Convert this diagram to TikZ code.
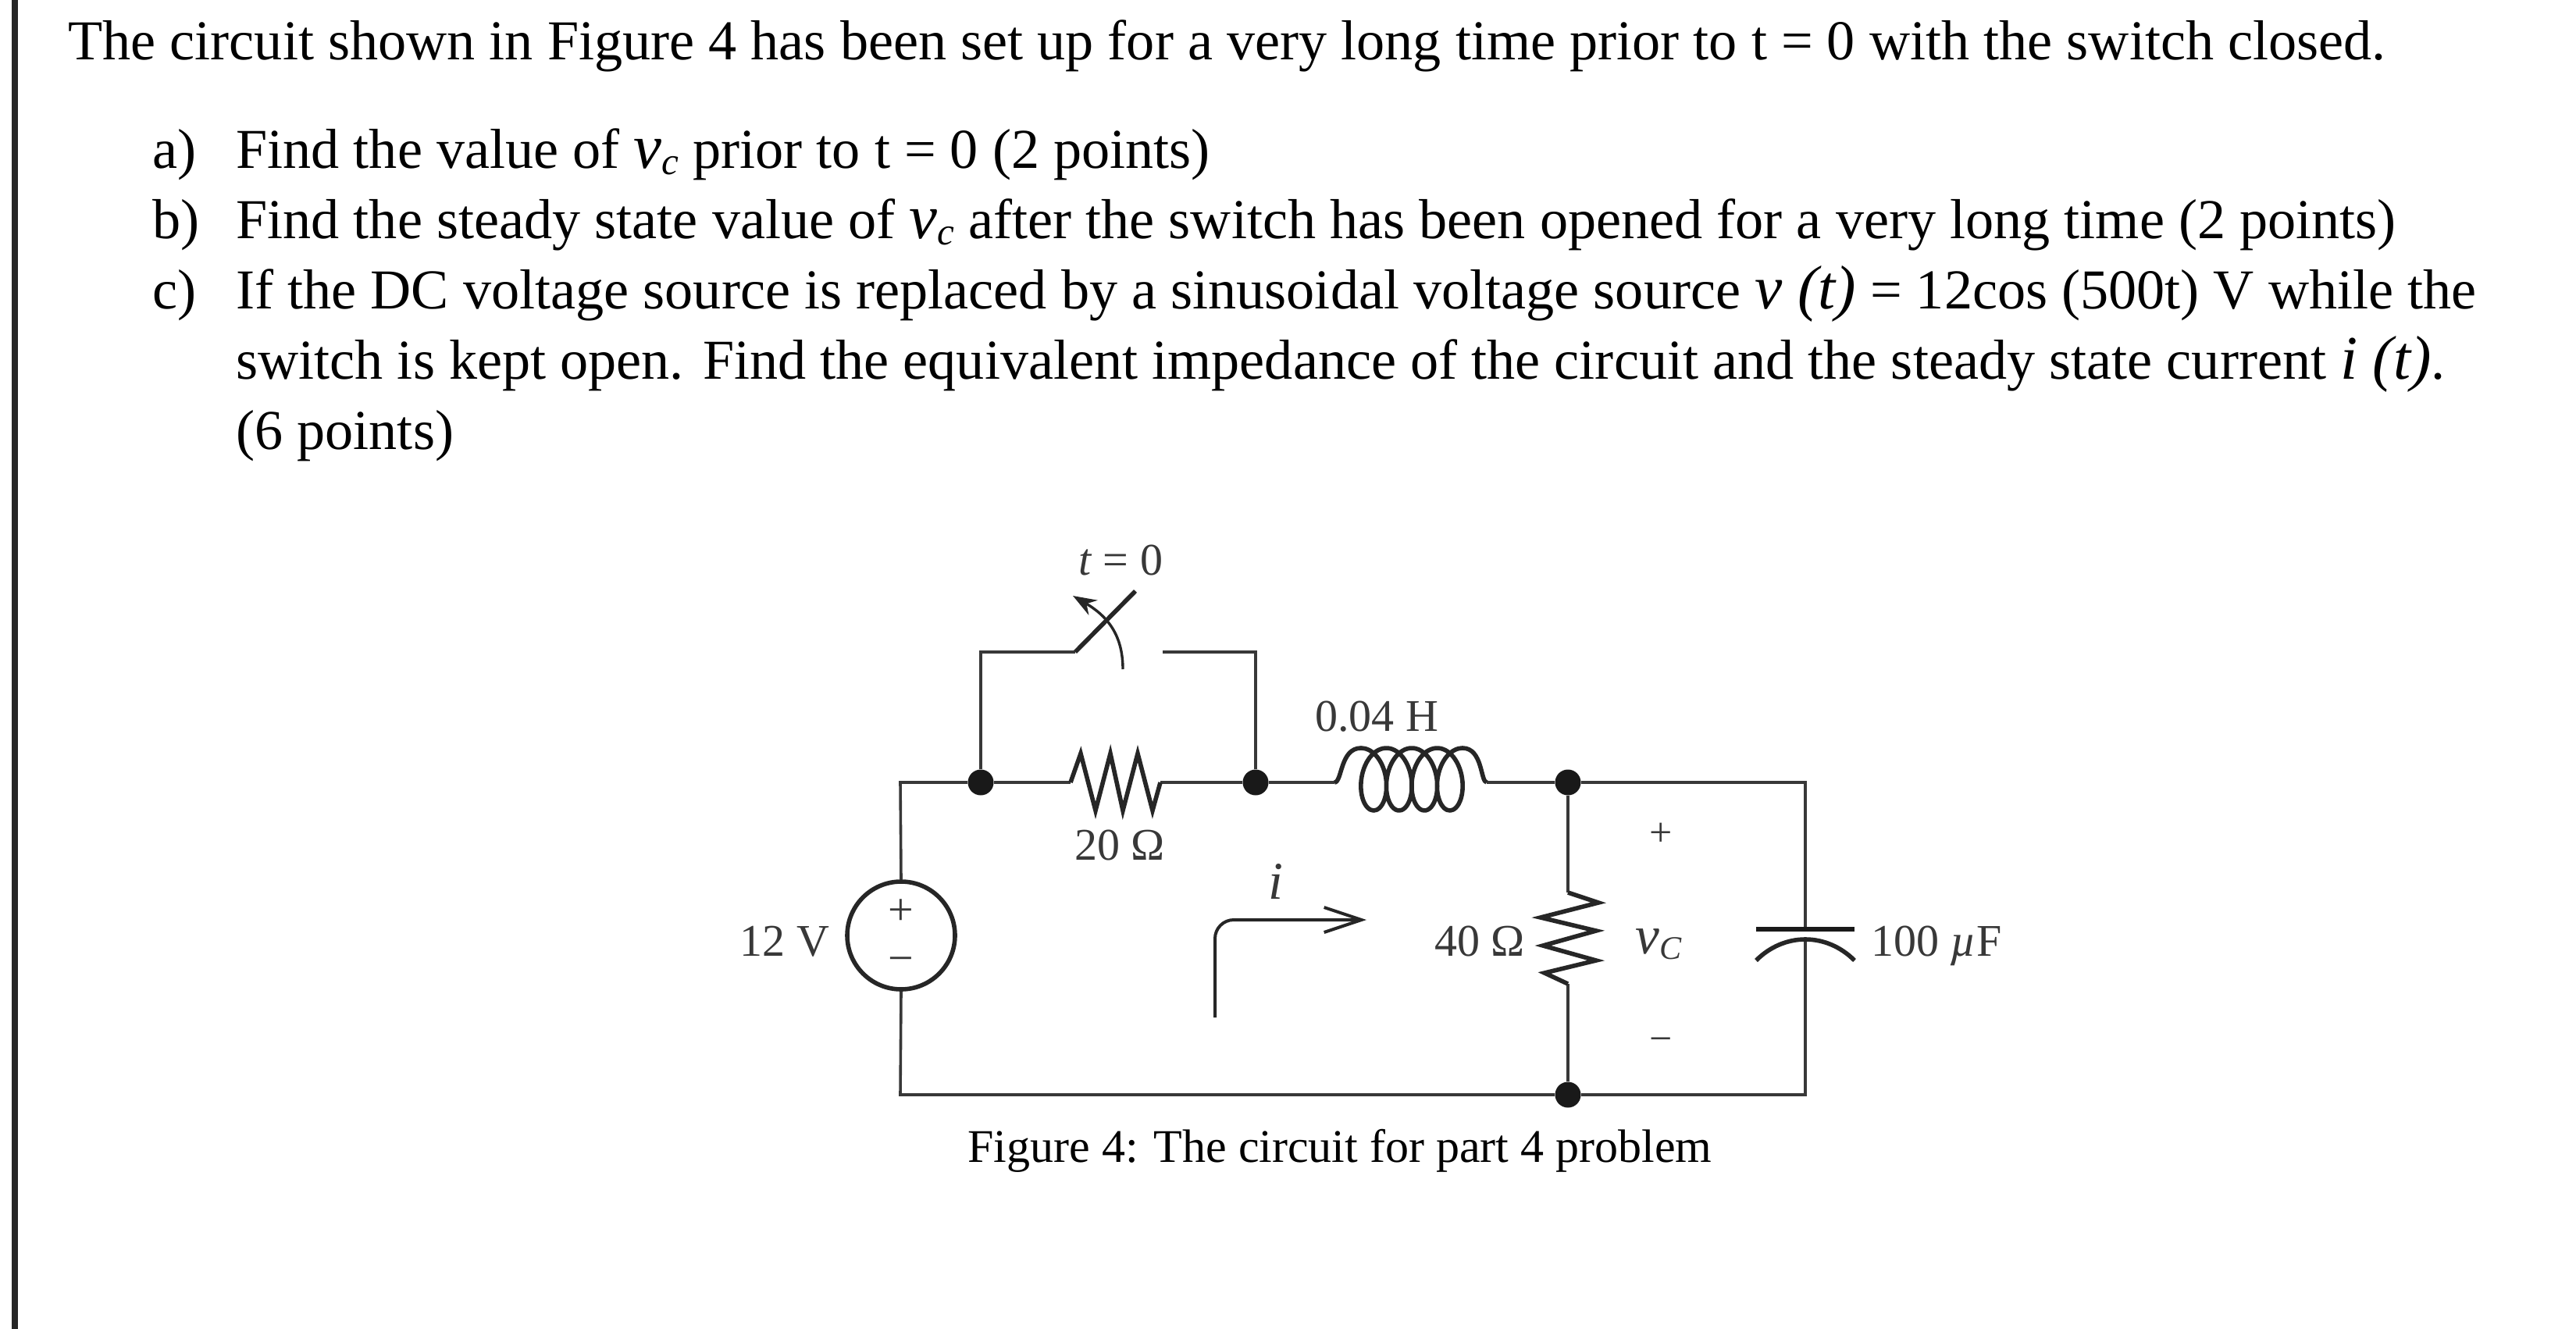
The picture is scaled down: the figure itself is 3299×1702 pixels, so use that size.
\documentclass[tikz,border=0pt]{standalone}
\usepackage{fontspec}
\setmainfont{Liberation Serif}
\usetikzlibrary{arrows.meta}
\newcommand{\vsub}[1]{\scalebox{1.12}{\textit{v}}\raisebox{-.12em}{\scalebox{.68}{\textit{#1}}}}
\newcommand{\mathv}[1]{\scalebox{1.1}{\textit{#1}}}
\tikzset{
  wire/.style={draw=black!78, line width=1.8pt},
  thickwire/.style={draw=black!85, line width=2.8pt, line join=miter},
  dot/.style={circle, fill=black!90, inner sep=0pt, minimum size=16.5pt},
  txt/.style={anchor=base west, inner sep=0pt, text=black, font=\fontsize{36.1}{40}\selectfont},
  val/.style={inner sep=0pt, text=black!78, font=\fontsize{29}{34}\selectfont},
  sgn/.style={inner sep=0pt, text=black!78, font=\fontsize{26}{30}\selectfont}
}
\begin{document}
\begin{tikzpicture}[x=0.5pt,y=-0.5pt]
\useasboundingbox (0,0) rectangle (3299,1702);
\fill [black!85] (15,0) rectangle (23,1702);
% problem text
\node [txt] (line0) at (87,77) {The circuit shown in Figure 4 has been set up for a very long time prior to t = 0 with the switch closed.};
\node [txt] (labela) at (195,215) {a)};
\node [txt] (linea) at (302,215) {Find the value of \vsub{c} prior to t = 0 (2 points)};
\node [txt] (labelb) at (195,305) {b)};
\node [txt] (lineb) at (302,305) {Find the steady state value of \vsub{c} after the switch has been opened for a very long time (2 points)};
\node [txt] (labelc) at (195,395) {c)};
\node [txt] (linec) at (302,395) {If the DC voltage source is replaced by a sinusoidal voltage source \mathv{v (t)} = 12cos (500t) V while the};
\node [txt] (lined) at (302,485) {switch is kept open. Find the equivalent impedance of the circuit and the steady state current \mathv{i (t)}.};
\node [txt] (linee) at (302,575) {(6 points)};
\node [txt] (caption) at (1239,1488) {\fontsize{30}{34}\selectfont Figure 4: The circuit for part 4 problem};
% corners and junctions
\coordinate (TL) at (1153,1002);
\coordinate (BL) at (1153,1402);
\coordinate (TR) at (2312,1002);
\coordinate (BR) at (2312,1402);
\coordinate (SL) at (1256,835);
\coordinate (SR) at (1608,835);
\coordinate (SA) at (1377,835);
\coordinate (SB) at (1489,835);
\coordinate (SC) at (1454,757);
\node [dot] (n1) at (1256,1002) {};
\node [dot] (n2) at (1608,1002) {};
\node [dot] (n3) at (2008,1002) {};
\node [dot] (n4) at (2008,1402) {};
% source
\node [draw=black!85, line width=2.8pt, circle, inner sep=0pt, minimum size=69pt] (src) at (1154,1198) {};
\draw [wire] (src.north) -- (TL) -- (n1) -- (n2) -- (n3) -- (TR) -- (BR) -- (n4) -- (BL) -- (src.south);
\draw [wire] (n3) -- (n4);
\node [sgn] (srcp) at (1154,1168) {\fontsize{29}{34}\selectfont +};
\node [sgn] (srcm) at (1154,1236) {\fontsize{29}{34}\selectfont −};
\node [val] (srcv) at (1005,1206) {12 V};
% switch
\draw [wire] (n1) -- (SL) -- (SA);
\draw [wire] (n2) -- (SR) -- (SB);
\draw [thickwire] (SA) -- (SC);
\draw [draw=black!85, line width=1.7pt, -{Stealth[length=15pt,width=11pt]}] (1438,857) .. controls (1438,815) and (1420,790) .. (1374,763);
\node [val] (sw) at (1435,717) {\textit{t} = 0};
% parallel resistor
\fill [white] (1371,950) rectangle (1486,1050);
\draw [thickwire] (1371,1002) -- (1384,965) -- (1403,1038) -- (1422,965) -- (1438,1038) -- (1457,965) -- (1476,1038) -- (1486,1002);
\node [val] (r1) at (1434,1082) {20 Ω};
% inductor
\fill [white] (1709,950) rectangle (1904,1050);
\draw [thickwire, line join=round] (1709,1002) .. controls (1719,1002) and (1716,958) .. (1743,958)
  -- plot [domain=0:1440, samples=120, smooth] ({1743+0.09028*\x+24*sin(\x)}, {998-40*cos(\x)})
  .. controls (1899,958) and (1896,1002) .. (1904,1002);
\node [val] (l1) at (1763,918) {0.04 H};
% load resistor
\fill [white] (1965,1143) rectangle (2050,1260);
\draw [thickwire] (2008,1143) -- (2047,1156) -- (1973,1175) -- (2044,1192) -- (1976,1211) -- (2044,1230) -- (1978,1246) -- (2008,1260);
\node [val] (r2) at (1895,1205) {40 Ω};
% capacitor
\fill [white] (2290,1191) rectangle (2330,1203);
\draw [draw=black!90, line width=3.4pt] (2249,1190) -- (2375,1190);
\draw [thickwire] (2249,1230) .. controls (2285,1194) and (2339,1194) .. (2375,1230);
\node [val] (c1) at (2480,1211) {100 \textit{µ}F};
% voltage label
\node [sgn] (vp) at (2127,1069) {+};
\node [val] (vc) at (2124,1209) {\fontsize{31}{34}\selectfont\vsub{C}};
\node [sgn] (vm) at (2127,1338) {−};
% current arrow
\draw [draw=black!85, line width=2pt, rounded corners=12pt, -{Straight Barb[length=24pt,width=16pt]}] (1556,1303) -- (1556,1178) -- (1750,1178);
\node [val] (cur) at (1634,1129) {\fontsize{34}{34}\selectfont\textit{i}};
\end{tikzpicture}
\end{document}
